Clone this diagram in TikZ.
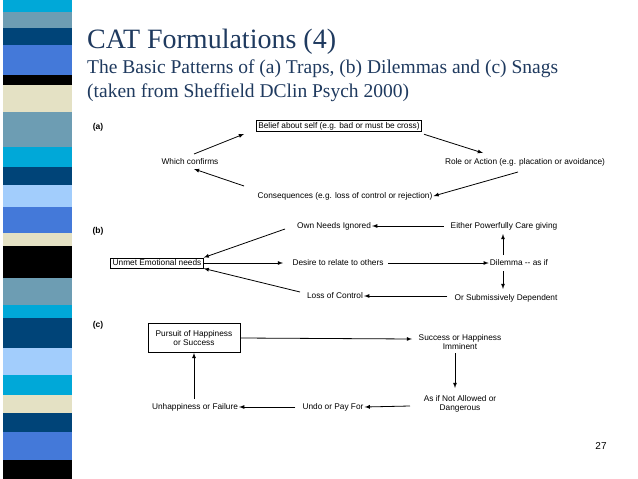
\documentclass[tikz,border=0pt]{standalone}
\usepackage{fontspec}
\setmainfont{Liberation Serif}
\newfontfamily\arial{Liberation Sans}
\begin{document}
\begin{tikzpicture}[x=1pt,y=-1pt,
  lbl/.style={font=\arial\fontsize{8.3}{9.5}\selectfont,inner sep=1pt,align=center},
  bx/.style={lbl,draw,thick,inner sep=3pt},
  ar/.style={-latex,thick}]
\definecolor{cy}{HTML}{00A8D8}\definecolor{gb}{HTML}{6D9DB3}\definecolor{nv}{HTML}{004478}
\definecolor{mb}{HTML}{4479D9}\definecolor{bg}{HTML}{E4E1C4}\definecolor{lb}{HTML}{A2CDFC}
\definecolor{tc}{HTML}{1F3A5F}
\useasboundingbox (0,0) rectangle (638,479);
\fill[white] (0,0) rectangle (638,479);
\foreach \a/\b/\c in {0/12/cy,12/28/gb,28/45/nv,45/75/mb,75/85/black,85/112/bg,112/147/gb,147/167/cy,167/185/nv,185/207/lb,207/233/mb,233/246/bg,246/278/black,278/305/gb,305/318/cy,318/348/nv,348/375/lb,375/395/cy,395/413/bg,413/432/nv,432/460/mb,460/479/black}
  \fill[\c] (3,\a) rectangle (72,\b);
\node[anchor=base west,inner sep=0,text=tc,font=\fontsize{28}{30}\selectfont] (t) at (87,48) {CAT Formulations (4)};
\node[anchor=base west,inner sep=0,text=tc,font=\fontsize{19.5}{22}\selectfont] (s1) at (87,73) {The Basic Patterns of (a) Traps, (b) Dilemmas and (c) Snags};
\node[anchor=base west,inner sep=0,text=tc,font=\fontsize{19.5}{22}\selectfont] (s2) at (87,97) {(taken from Sheffield DClin Psych 2000)};
\node[lbl,font=\arial\bfseries\fontsize{8.5}{10}\selectfont] (la) at (98,127) {(a)};
\node[lbl,font=\arial\bfseries\fontsize{8.5}{10}\selectfont] (lb) at (98,231) {(b)};
\node[lbl,font=\arial\bfseries\fontsize{8.5}{10}\selectfont] (lc) at (98,325) {(c)};
% (a)
\node[bx,inner sep=2pt] (a1) at (339,126) {Belief about self (e.g. bad or must be cross)};
\node[lbl] (a2) at (525,162) {Role or Action (e.g. placation or avoidance)};
\node[lbl] (a3) at (345,196) {Consequences (e.g. loss of control or rejection)};
\node[lbl] (a4) at (190,162) {Which confirms};
\draw[ar] (a1.south east)++(2,2) -- (483,153);
\draw[ar] (518,172) -- (a3.east);
\draw[ar] (244,186) -- (194,169);
\draw[ar] (194,154) -- (244,134);
% (b)
\node[bx,inner sep=2pt] (u) at (157,263) {Unmet Emotional needs};
\node[lbl] (on) at (334,226) {Own Needs Ignored};
\node[lbl] (ep) at (504,226) {Either Powerfully Care giving};
\node[lbl] (de) at (338,263) {Desire to relate to others};
\node[lbl] (di) at (519,263) {Dilemma -- as if};
\node[lbl] (lo) at (335,296) {Loss of Control};
\node[lbl] (os) at (506,298) {Or Submissively Dependent};
\draw[ar] (ep.west)++(-6,0) -- (on.east);
\draw[ar] (285,229) -- (u.north east);
\draw[ar] (u.east) -- (283,263);
\draw[ar] (388,263) -- (di.west);
\draw[ar] (503,255) -- (503,234);
\draw[ar] (503,271) -- (503,289);
\draw[ar] (os.west)++(-6,-2) -- (lo.east);
\draw[ar] (300,292) -- (u.south east);
% (c)
\node[bx,minimum width=92,minimum height=29] (p) at (194,338) {Pursuit of Happiness\\or Success};
\node[lbl] (sh) at (460,342) {Success or Happiness\\Imminent};
\node[lbl] (as) at (460,404) {As if Not Allowed or\\Dangerous};
\node[lbl] (ud) at (333,407) {Undo or Pay For};
\node[lbl] (uf) at (195,407) {Unhappiness or Failure};
\draw[ar] (p.east) -- (412,339);
\draw[ar] (455,353) -- (455,388);
\draw[ar] (410,406) -- (ud.east);
\draw[ar] (ud.west)++(-6,0) -- (uf.east);
\draw[ar] (194,399) -- (p.south);
\node[font=\arial\fontsize{10}{12}\selectfont] (pg) at (601,446) {27};
\end{tikzpicture}
\end{document}
